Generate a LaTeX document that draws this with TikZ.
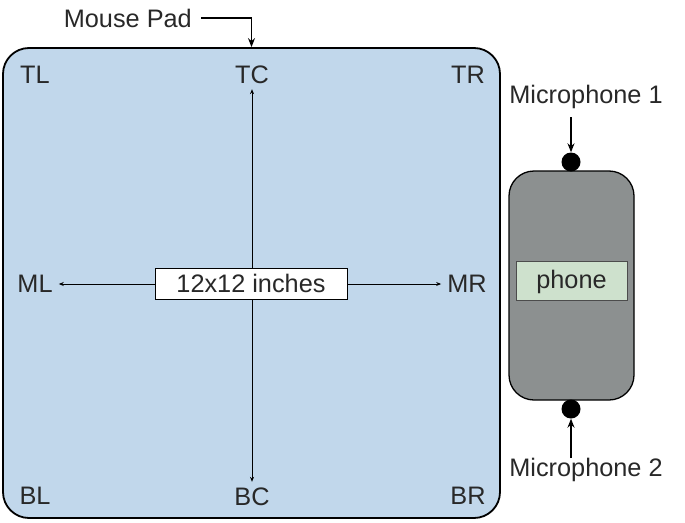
\documentclass[tikz,border=0pt]{standalone}
\usepackage{fontspec}
\setmainfont{Liberation Sans}
\usetikzlibrary{arrows.meta}
\definecolor{padblue}{RGB}{193,215,235}
\definecolor{phonegray}{RGB}{140,144,144}
\definecolor{screengreen}{RGB}{206,225,205}
\definecolor{txt}{RGB}{40,40,40}
\begin{document}
\begin{tikzpicture}[x=1pt,y=-1pt,
  lbl/.style={text=txt,font=\fontsize{25.3}{29}\selectfont,inner sep=0pt},
  bigarrow/.style={draw=black,line width=1.3pt,-{Stealth[length=9pt,width=7pt]}},
  smallarrow/.style={draw=black,line width=0.9pt,{Stealth[length=5pt,width=4pt]}-{Stealth[length=5pt,width=4pt]}},
  micdot/.style={circle,fill=black,minimum size=19pt,inner sep=0pt}]
\useasboundingbox (0,0) rectangle (685,522);
% pad
\node[draw=black,line width=1.8pt,fill=padblue,rounded corners=26pt,minimum width=497pt,minimum height=470pt,inner sep=0pt] (pad) at (251.5,283) {};
% corner labels
\node[lbl] (TL) at (35,75) {TL};
\node[lbl] (TC) at (252,75) {TC};
\node[lbl] (TR) at (468,75) {TR};
\node[lbl] (ML) at (35,284) {ML};
\node[lbl] (MR) at (467,284) {MR};
\node[lbl] (BL) at (35,496) {BL};
\node[lbl] (BC) at (252,497) {BC};
\node[lbl] (BR) at (468,496) {BR};
% arrows
\draw[smallarrow] ([yshift=-5pt]TC.south) -- ([yshift=6pt]BC.north);
\draw[smallarrow] ([xshift=6pt]ML.east) -- ([xshift=-6pt]MR.west);
\node[draw=black,line width=0.9pt,fill=white,minimum width=192pt,minimum height=31pt,inner sep=0pt,lbl] (size) at (251,283.5) {12x12 inches};
% mouse pad label
\node[lbl,anchor=east] (mp) at (192,18) {Mouse Pad};
\draw[bigarrow] ([xshift=9pt]mp.east) -| (pad.north);
% phone
\node[draw=black,line width=1.3pt,fill=phonegray,rounded corners=25pt,minimum width=125pt,minimum height=229pt,inner sep=0pt] (phone) at (571.5,285.5) {};
\node[draw=black!70,line width=0.9pt,fill=screengreen,minimum width=111pt,minimum height=39pt,inner sep=0pt,lbl,text depth=2pt] (screen) at (571.5,280.5) {phone};
\node[micdot] (mic1) at (571,162) {};
\node[micdot] (mic2) at (571,409) {};
\node[lbl] (m1) at (586,97) {Microphone 1};
\node[lbl] (m2) at (586,470) {Microphone 2};
\draw[bigarrow] (571,117) -- (mic1.north);
\draw[bigarrow] (571,458) -- (mic2.south);
\end{tikzpicture}
\end{document}
